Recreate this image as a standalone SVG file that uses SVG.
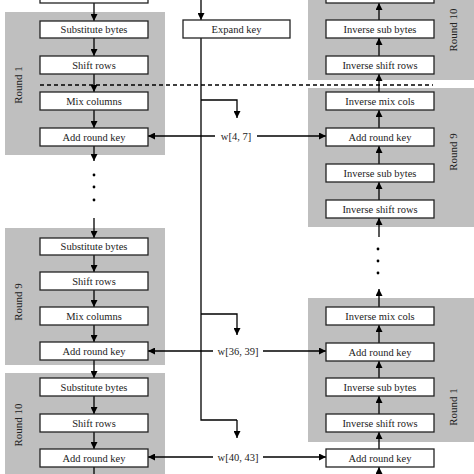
<svg xmlns="http://www.w3.org/2000/svg" width="474" height="474" viewBox="0 0 474 474">
<defs>
<marker id="ah" viewBox="0 0 10 10" refX="10" refY="5" markerWidth="7" markerHeight="7" markerUnits="userSpaceOnUse" orient="auto"><path d="M0,0 L10,5 L0,10 z" fill="#000"/></marker>
<style>
.panel{fill:#bfbfbf}
.box{fill:#fff;stroke:#222;stroke-width:1.3}
.t{font-family:"Liberation Serif","Times New Roman",serif;font-size:10.5px;fill:#222;text-anchor:middle;dominant-baseline:central}
.rl{font-family:"Liberation Serif","Times New Roman",serif;font-size:11px;fill:#222;text-anchor:middle;dominant-baseline:central}
.c{stroke:#000;stroke-width:1.3;fill:none}
.a{stroke:#000;stroke-width:1.3;fill:none;marker-end:url(#ah)}
.dash{stroke:#000;stroke-width:1.3;stroke-dasharray:4,3;fill:none}
.dot{fill:#000}
</style>
</defs>
<rect width="474" height="474" fill="#fff"/>
<g id="panels">
<rect class="panel" x="5" y="12" width="160" height="143"/>
<rect class="panel" x="5" y="228" width="160" height="137"/>
<rect class="panel" x="5" y="373" width="160" height="101"/>
<rect class="panel" x="308" y="0" width="166" height="80"/>
<rect class="panel" x="308" y="88" width="166" height="139"/>
<rect class="panel" x="308" y="298" width="166" height="144"/>
</g>
<g id="round-labels">
<text class="rl" transform="translate(18,85) rotate(-90)">Round 1</text>
<text class="rl" transform="translate(18,302) rotate(-90)">Round 9</text>
<text class="rl" transform="translate(18,425) rotate(-90)">Round 10</text>
<text class="rl" transform="translate(453,30) rotate(-90)">Round 10</text>
<text class="rl" transform="translate(453,152) rotate(-90)">Round 9</text>
<text class="rl" transform="translate(453,407) rotate(-90)">Round 1</text>
</g>
<g id="connectors">
<line class="dash" x1="40" y1="85" x2="433" y2="85"/>
<!-- left column -->
<line class="a" x1="94" y1="3" x2="94" y2="21"/>
<line class="a" x1="94" y1="38" x2="94" y2="56"/>
<line class="a" x1="94" y1="74" x2="94" y2="92"/>
<line class="a" x1="94" y1="110" x2="94" y2="128"/>
<line class="a" x1="94" y1="146" x2="94" y2="161"/>
<line class="a" x1="94" y1="218" x2="94" y2="238"/>
<line class="a" x1="94" y1="255" x2="94" y2="272"/>
<line class="a" x1="94" y1="290" x2="94" y2="307"/>
<line class="a" x1="94" y1="325" x2="94" y2="342"/>
<line class="a" x1="94" y1="360" x2="94" y2="378"/>
<line class="a" x1="94" y1="396" x2="94" y2="414"/>
<line class="a" x1="94" y1="432" x2="94" y2="449"/>
<line class="c" x1="94" y1="467" x2="94" y2="474"/>
<!-- right column (upward) -->
<line class="a" x1="379" y1="20" x2="379" y2="3"/>
<line class="a" x1="379" y1="56" x2="379" y2="38"/>
<line class="a" x1="379" y1="92" x2="379" y2="74"/>
<line class="a" x1="379" y1="128" x2="379" y2="110"/>
<line class="a" x1="379" y1="164" x2="379" y2="146"/>
<line class="a" x1="379" y1="200" x2="379" y2="182"/>
<line class="a" x1="379" y1="237" x2="379" y2="218"/>
<line class="a" x1="379" y1="307" x2="379" y2="289"/>
<line class="a" x1="379" y1="343" x2="379" y2="325"/>
<line class="a" x1="379" y1="378" x2="379" y2="361"/>
<line class="a" x1="379" y1="414" x2="379" y2="396"/>
<line class="a" x1="379" y1="449" x2="379" y2="432"/>
<line class="a" x1="379" y1="474" x2="379" y2="467"/>
<!-- key schedule -->
<line class="a" x1="201" y1="0" x2="201" y2="20"/>
<polyline class="c" points="201,38 201,420 237,420"/>
<polyline class="a" points="201,100 237,100 237,118"/>
<polyline class="a" points="201,314 237,314 237,335"/>
<line class="a" x1="237" y1="420" x2="237" y2="438"/>
<!-- round key lines -->
<line class="a" x1="215" y1="136" x2="148" y2="136"/>
<line class="a" x1="257" y1="136" x2="326" y2="136"/>
<line class="a" x1="213" y1="351" x2="148" y2="351"/>
<line class="a" x1="263" y1="351" x2="326" y2="351"/>
<line class="a" x1="213" y1="457" x2="148" y2="457"/>
<line class="a" x1="263" y1="457" x2="326" y2="457"/>
</g>
<g id="dots">
<circle class="dot" cx="94" cy="175" r="1.4"/>
<circle class="dot" cx="94" cy="187" r="1.4"/>
<circle class="dot" cx="94" cy="200" r="1.4"/>
<circle class="dot" cx="378" cy="249" r="1.4"/>
<circle class="dot" cx="378" cy="261" r="1.4"/>
<circle class="dot" cx="378" cy="273" r="1.4"/>
</g>
<g id="key-labels">
<text class="t" x="236" y="136">w[4, 7]</text>
<text class="t" x="238" y="351">w[36, 39]</text>
<text class="t" x="238" y="457">w[40, 43]</text>
</g>
<g id="left-top"><rect class="box" x="40" y="-10" width="108" height="13"/></g>
<g id="l1-sub"><rect class="box" x="40" y="21" width="108" height="17"/><text class="t" x="94" y="29.5">Substitute bytes</text></g>
<g id="l1-shift"><rect class="box" x="40" y="56" width="108" height="18"/><text class="t" x="94" y="65">Shift rows</text></g>
<g id="l1-mix"><rect class="box" x="40" y="92" width="108" height="18"/><text class="t" x="94" y="101">Mix columns</text></g>
<g id="l1-ark"><rect class="box" x="40" y="128" width="108" height="18"/><text class="t" x="94" y="137">Add round key</text></g>
<g id="l9-sub"><rect class="box" x="40" y="238" width="108" height="17"/><text class="t" x="94" y="246.5">Substitute bytes</text></g>
<g id="l9-shift"><rect class="box" x="40" y="272" width="108" height="18"/><text class="t" x="94" y="281">Shift rows</text></g>
<g id="l9-mix"><rect class="box" x="40" y="307" width="108" height="18"/><text class="t" x="94" y="316">Mix columns</text></g>
<g id="l9-ark"><rect class="box" x="40" y="342" width="108" height="18"/><text class="t" x="94" y="351">Add round key</text></g>
<g id="l10-sub"><rect class="box" x="40" y="378" width="108" height="18"/><text class="t" x="94" y="387">Substitute bytes</text></g>
<g id="l10-shift"><rect class="box" x="40" y="414" width="108" height="18"/><text class="t" x="94" y="423">Shift rows</text></g>
<g id="l10-ark"><rect class="box" x="40" y="449" width="108" height="18"/><text class="t" x="94" y="458">Add round key</text></g>
<g id="expand-key"><rect class="box" x="183" y="20" width="107" height="18"/><text class="t" x="236.5" y="29">Expand key</text></g>
<g id="right-top"><rect class="box" x="326" y="-10" width="108" height="13"/></g>
<g id="r10-isub"><rect class="box" x="326" y="20" width="108" height="18"/><text class="t" x="380" y="29">Inverse sub bytes</text></g>
<g id="r10-ishift"><rect class="box" x="326" y="56" width="108" height="18"/><text class="t" x="380" y="65">Inverse shift rows</text></g>
<g id="r9-imix"><rect class="box" x="326" y="92" width="108" height="18"/><text class="t" x="380" y="101">Inverse mix cols</text></g>
<g id="r9-ark"><rect class="box" x="326" y="128" width="108" height="18"/><text class="t" x="380" y="137">Add round key</text></g>
<g id="r9-isub"><rect class="box" x="326" y="164" width="108" height="18"/><text class="t" x="380" y="173">Inverse sub bytes</text></g>
<g id="r9-ishift"><rect class="box" x="326" y="200" width="108" height="18"/><text class="t" x="380" y="209">Inverse shift rows</text></g>
<g id="r1-imix"><rect class="box" x="326" y="307" width="108" height="18"/><text class="t" x="380" y="316">Inverse mix cols</text></g>
<g id="r1-ark"><rect class="box" x="326" y="343" width="108" height="18"/><text class="t" x="380" y="352">Add round key</text></g>
<g id="r1-isub"><rect class="box" x="326" y="378" width="108" height="18"/><text class="t" x="380" y="387">Inverse sub bytes</text></g>
<g id="r1-ishift"><rect class="box" x="326" y="414" width="108" height="18"/><text class="t" x="380" y="423">Inverse shift rows</text></g>
<g id="r0-ark"><rect class="box" x="326" y="449" width="108" height="18"/><text class="t" x="380" y="458">Add round key</text></g>
</svg>
